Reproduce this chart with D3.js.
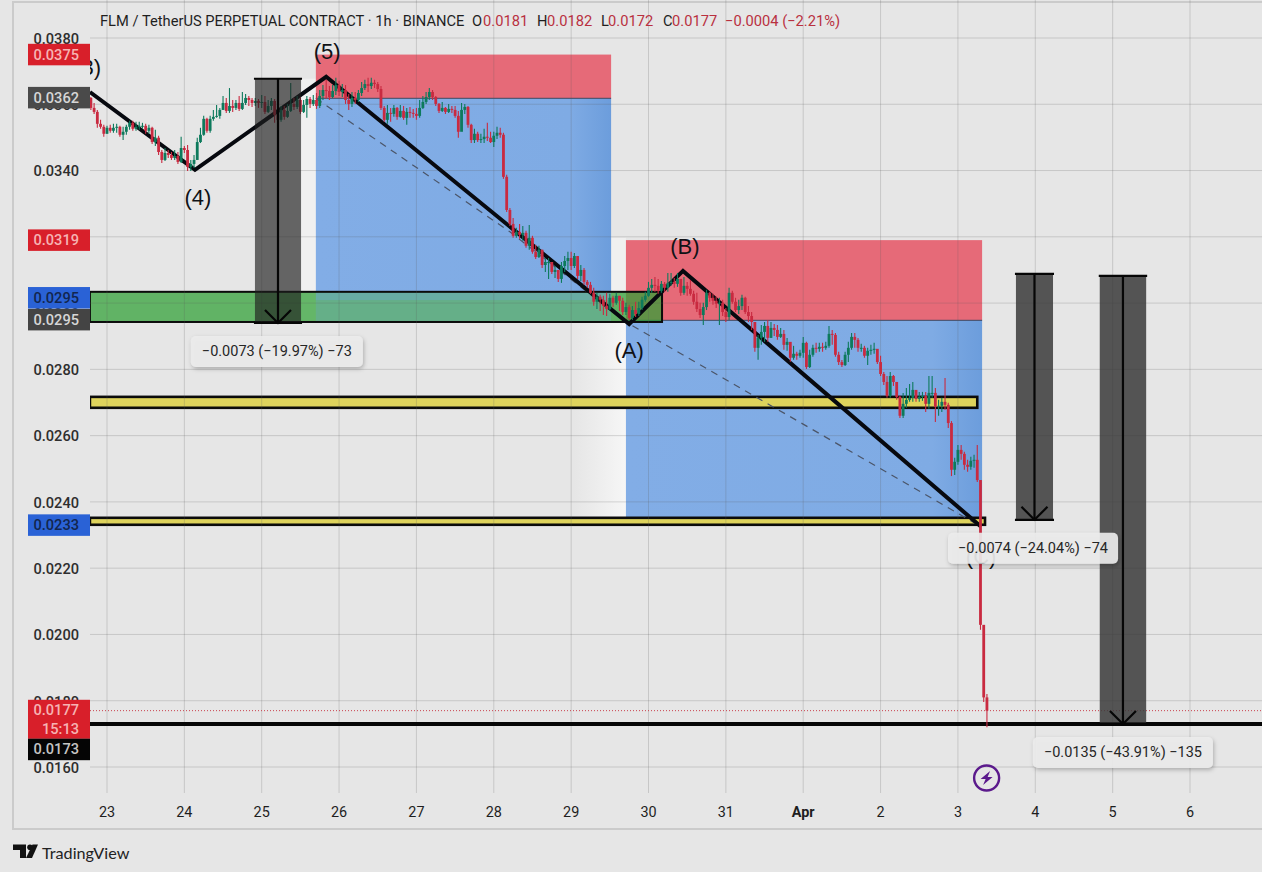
<!DOCTYPE html>
<html><head><meta charset="utf-8">
<script src="https://cdn.jsdelivr.net/npm/d3@7/dist/d3.min.js"></script>
<style>html,body{margin:0;padding:0;background:#e6e6e6;overflow:hidden}svg{display:block;font-family:Roboto,sans-serif}</style>
</head><body><svg id="c" width="1262" height="872"></svg>
<script>
// Hourly candles. Prices are in units of 0.00001; the first candle opens at firstOpen, then each opens at the previous close.
const firstHour = -5;   // hours from 23 March 00:00
const firstOpen = 3619;
const closes = [3589,3577,3541,3532,3511,
3529,3520,3529,3532,3508,3517,3532,3544,3526,3532,3535,3535,3520,3529,3486,3499,3456,3432,3453,3447,3438,3444,3426,3468,
3462,3411,3420,3432,3486,3508,3556,3520,3556,3562,3565,3583,3604,3580,3595,3589,3604,3586,3604,3619,3613,3604,3610,3604,
3607,3577,3595,3610,3568,3553,3583,3562,3580,3601,3592,3613,3577,3598,3616,3601,3613,3595,3625,3643,3640,3622,3640,3658,
3637,3643,3613,3601,3619,3613,3634,3649,3661,3655,3665,3661,3646,3589,3553,3574,3571,3589,3562,3580,3559,3577,3574,3571,
3565,3589,3607,3622,3637,3622,3601,3580,3589,3577,3586,3583,3565,3517,3583,3592,3538,3492,3511,3492,3495,3502,3499,3486,
3505,3514,3508,3381,3281,3239,3203,3215,3206,3212,3173,3197,3155,3139,3161,3115,3124,3124,3094,3100,3073,3112,3127,3136,
3112,3142,3082,3100,3064,3055,3031,3004,3019,3010,2992,2982,3016,3001,3022,3007,2973,2988,2955,2979,2967,2985,3010,3022,
3046,3055,3052,3037,3058,3046,3061,3064,3058,3073,3031,3052,3043,3028,3004,2982,2964,2988,3031,3016,3007,2998,3001,2973,
2958,3031,3004,2979,2991,3016,2973,2961,2943,2865,2895,2913,2931,2895,2925,2919,2898,2907,2874,2883,2835,2847,2841,2850,
2880,2807,2844,2865,2862,2868,2865,2871,2907,2904,2844,2822,2813,2844,2865,2898,2889,2865,2865,2841,2856,2859,2862,2822,
2786,2762,2720,2780,2762,2717,2660,2696,2708,2714,2738,2711,2717,2720,2696,2729,2729,2687,2690,2702,2693,2638,2497,2521,
2557,2545,2512,2506,2524,2527,2466,2029,1810,1770];
const highs = [3622,3604,3583,3553,3538,
3535,3538,3541,3541,3535,3532,3538,3550,3550,3547,3547,3544,3541,3538,3532,3523,3505,3462,3468,3462,3456,3462,3456,3502,
3474,3477,3432,3447,3499,3529,3565,3559,3565,3583,3598,3589,3625,3619,3649,3613,3613,3625,3637,3631,3625,3619,3619,3616,
3628,3625,3613,3619,3616,3589,3595,3595,3601,3664,3619,3625,3622,3613,3625,3622,3628,3634,3643,3658,3674,3655,3658,3680,
3671,3661,3658,3631,3637,3637,3643,3667,3674,3680,3680,3674,3667,3655,3595,3598,3589,3598,3592,3598,3595,3589,3592,3586,
3589,3613,3625,3637,3649,3643,3625,3604,3607,3592,3601,3595,3595,3580,3604,3601,3595,3541,3526,3517,3511,3526,3544,3517,
3517,3532,3529,3514,3387,3287,3257,3227,3239,3233,3218,3236,3203,3176,3173,3161,3136,3136,3118,3112,3100,3124,3142,3155,
3155,3151,3142,3115,3106,3070,3064,3046,3031,3025,3022,3031,3028,3022,3031,3022,3016,3001,2995,2991,3004,3004,3019,3034,
3064,3073,3079,3073,3067,3064,3091,3091,3076,3091,3073,3079,3064,3070,3037,3031,3001,3001,3040,3034,3028,3019,3016,3010,
2985,3046,3037,3016,3010,3025,3019,2991,2973,2943,2904,2934,2943,2949,2943,2937,2934,2925,2919,2895,2880,2871,2853,2859,
2898,2883,2859,2874,2880,2880,2880,2883,2931,2919,2910,2853,2828,2853,2883,2910,2910,2895,2877,2871,2865,2874,2880,2856,
2841,2792,2780,2792,2783,2756,2720,2729,2744,2756,2762,2738,2732,2732,2732,2780,2780,2744,2708,2714,2774,2699,2644,2533,
2572,2572,2551,2527,2536,2542,2572,2466,2023,1820];
const lows = [3583,3571,3529,3526,3502,
3511,3514,3514,3514,3502,3492,3508,3523,3520,3520,3523,3526,3511,3511,3480,3474,3447,3423,3429,3438,3432,3432,3420,3423,
3453,3399,3399,3408,3432,3483,3505,3514,3514,3550,3559,3556,3583,3574,3574,3577,3583,3580,3583,3598,3595,3592,3595,3589,
3589,3571,3574,3583,3544,3541,3547,3553,3559,3577,3583,3586,3571,3574,3559,3589,3595,3586,3589,3613,3616,3613,3619,3628,
3625,3622,3601,3583,3592,3601,3607,3625,3643,3637,3646,3649,3637,3583,3547,3541,3547,3562,3553,3559,3553,3538,3559,3559,
3553,3559,3586,3601,3613,3613,3595,3574,3577,3571,3574,3574,3559,3499,3523,3571,3529,3483,3483,3486,3483,3483,3489,3483,
3471,3495,3499,3375,3275,3233,3197,3197,3194,3188,3167,3161,3149,3133,3136,3106,3094,3073,3088,3076,3064,3061,3094,3100,
3100,3106,3073,3067,3055,3046,3028,2992,2982,2976,2964,2961,2979,2988,2995,2976,2964,2964,2949,2949,2958,2961,2979,3004,
3019,3031,3034,3028,3031,3034,3034,3052,3046,3049,3022,3025,3022,3022,2995,2973,2955,2934,2979,3004,2995,2985,2934,2961,
2943,2949,2998,2973,2967,2979,2967,2943,2919,2853,2829,2874,2883,2883,2895,2901,2889,2895,2859,2856,2823,2829,2829,2835,
2835,2801,2804,2838,2850,2853,2853,2859,2865,2874,2838,2813,2807,2810,2822,2859,2865,2853,2853,2835,2813,2844,2847,2816,
2780,2753,2714,2714,2750,2708,2653,2653,2684,2702,2702,2702,2702,2705,2671,2681,2714,2641,2660,2671,2678,2623,2478,2481,
2512,2527,2497,2491,2497,2503,2460,2014,1796,1720];

const priceTicks = [3800,3600,3400,3200,3000,2800,2600,2400,2200,2000,1800,1600];
const dayTicks = [0,24,48,72,96,120,144,168,192,216,240,264,288,312,336];
const dayLabels = ["23","24","25","26","27","28","29","30","31","Apr","2","3","4","5","6"];

// Chart drawings, in hours and price units
const wavePoints = [[-5.3,3637],[27.3,3402],[68,3683],[162,2937],[178.7,3097],[271.2,2325]];
const dashedPoints = [[64.8,3618],[125,3215],[161,2943],[271.2,2325]];
const waveLabels = [["(3)",-6,3710],["(5)",68.3,3758],["(4)",28.2,3320],["(A)",162,2856],["(B)",179.3,3170],["(C)",271.2,2234]];
const targetBoxes = [[64.8,156.4,3750,3618],[161,271.5,3190,2948]];
const stopBoxes = [[64.8,156.4,3618,3034],[161,271.5,2948,2331]];
const yellowBands = [[-5.3,270,2717,2684],[-5.3,272.4,2352,2331]];
const greenBand = [-5.3,172.2,3034,2943];
const arrowBoxes = [[45.9,60.2,3677,2940,"#1e1e1e",0.65],[282,293.5,3088,2346,"#3a3a3a",0.85],[308,322.4,3082,1730,"#3a3a3a",0.85]];
const callouts = [["−0.0073 (−19.97%) −73",52.7,2854,172],["−0.0074 (−24.04%) −74",287.3,2260,170],["−0.0135 (−43.91%) −135",315.2,1644,180]];
const lastPrice = 1770, supportPrice = 1730;
const priceTags = [
 [["0.0375"],3750,"#d81f2a","#f6b3b3"],[["0.0362"],3620,"#4a4a4a","#d6d6d6"],[["0.0319"],3190,"#d81f2a","#f6b3b3"],
 [["0.0295"],3016,"#2a62d6","#12264f"],[["0.0295"],2950,"#444","#d6d6d6"],[["0.0233"],2330,"#2a62d6","#12264f"],
 [["0.0177","15:13"],1744,"#d81f2a","#f6b3b3"],[["0.0173"],1653,"#050505","#c4c4c4"]];

const W = 1262, H = 872, left = 90, bottom = 793;
const x = d3.scaleLinear().domain([0,336]).range([107,1190]);
const y = d3.scaleLinear().domain([1600,3800]).range([767,38]);
const svg = d3.select("#c");

const defs = svg.append("defs");
const gradB = defs.append("linearGradient").attr("id","blueG");
gradB.append("stop").attr("offset","0").attr("stop-color","#82ade6");
gradB.append("stop").attr("offset","0.86").attr("stop-color","#7fabe4");
gradB.append("stop").attr("offset","1").attr("stop-color","#6c9ddc");
const gradW = defs.append("linearGradient").attr("id","glow");
gradW.append("stop").attr("offset","0").attr("stop-color","#f6f6f6").attr("stop-opacity",0);
gradW.append("stop").attr("offset","1").attr("stop-color","#f6f6f6").attr("stop-opacity",1);
defs.append("clipPath").attr("id","plot").append("rect").attr("x",left).attr("y",0).attr("width",W-left).attr("height",bottom);
const shadow = defs.append("filter").attr("id","sh").attr("x","-10%").attr("y","-20%").attr("width","120%").attr("height","150%");
shadow.append("feDropShadow").attr("dx",1).attr("dy",2).attr("stdDeviation",2).attr("flood-color","#000").attr("flood-opacity",0.28);

const rectH = (g,h0,h1,p0,p1) => g.append("rect").attr("x",x(h0)).attr("width",x(h1)-x(h0)).attr("y",y(p0)).attr("height",y(p1)-y(p0));

// frame
svg.append("rect").attr("x",13).attr("y",2).attr("width",W).attr("height",827).attr("fill","#e6e6e6").attr("stroke","#cbcbcb").attr("stroke-width",2);

const plot = svg.append("g").attr("clip-path","url(#plot)");

// pale glows beside the position boxes
rectH(plot,60.2,64.8,3677,2943).attr("fill","#f0f0f0");
rectH(plot,156.4,161,3197,3034).attr("fill","#f0f0f0");
rectH(plot,145,161,2943,2346).attr("fill","url(#glow)");

// position boxes
targetBoxes.forEach(b => rectH(plot,b[0],b[1],b[2],b[3]).attr("fill","#e66a78"));
stopBoxes.forEach(b => rectH(plot,b[0],b[1],b[2],b[3]).attr("fill","url(#blueG)"));
targetBoxes.forEach(b => plot.append("line").attr("x1",x(b[0])).attr("x2",x(b[1])).attr("y1",y(b[3])).attr("y2",y(b[3])).attr("stroke","#3d4560").attr("stroke-width",1));

// green zone
rectH(plot,greenBand[0],greenBand[1],greenBand[2],greenBand[3]).attr("fill","#30a035").attr("fill-opacity",0.73);
rectH(plot,64.8,156.4,3034,2943).attr("fill","#6fa6e6").attr("fill-opacity",0.28);
rectH(plot,64.8,156.4,3034,3009).attr("fill","#6fa6e6").attr("fill-opacity",0.3);
rectH(plot,greenBand[0],greenBand[1],greenBand[2],greenBand[3]).attr("fill","none").attr("stroke","#0b0b0b").attr("stroke-width",2);

// yellow bands
yellowBands.forEach(b => rectH(plot,b[0],b[1],b[2],b[3]).attr("fill","#ded35c").attr("stroke","#0b0b0b").attr("stroke-width",2.6));

// grid
const grid = plot.append("g").attr("stroke","rgba(90,90,90,0.22)").attr("stroke-width",1);
grid.selectAll(".gv").data(dayTicks).join("line").attr("x1",d=>x(d)).attr("x2",d=>x(d)).attr("y1",0).attr("y2",bottom);
grid.selectAll(".gh").data(priceTicks).join("line").attr("x1",left).attr("x2",W).attr("y1",d=>y(d)).attr("y2",d=>y(d));

// last price and support lines
plot.append("line").attr("x1",left).attr("x2",W).attr("y1",y(lastPrice)).attr("y2",y(lastPrice)).attr("stroke","#c9404c").attr("stroke-width",1).attr("stroke-dasharray","1 2");
plot.append("line").attr("x1",left).attr("x2",W).attr("y1",y(supportPrice)).attr("y2",y(supportPrice)).attr("stroke","#060606").attr("stroke-width",4);

// wave lines
const ln = d3.line().x(d=>x(d[0])).y(d=>y(d[1]));
plot.append("path").attr("d",ln(dashedPoints)).attr("fill","none").attr("stroke","#4b5568").attr("stroke-width",1.2).attr("stroke-dasharray","7 6");
plot.append("path").attr("d",ln(wavePoints)).attr("fill","none").attr("stroke","#07090f").attr("stroke-width",4).attr("stroke-linejoin","miter");

// wave labels
svg.append("g").selectAll("text").data(waveLabels).join("text")
  .attr("clip-path","url(#plot)")
  .attr("x",d=>x(d[1])).attr("y",d=>y(d[2])).attr("text-anchor","middle").attr("dominant-baseline","central")
  .style("font-family","'Liberation Sans',sans-serif").style("font-size","22px").attr("fill","#101216").text(d=>d[0]);

// candles
const candles = closes.map((c,i)=>({h:firstHour+i,o:i?closes[i-1]:firstOpen,c,hi:highs[i],lo:lows[i]}));
const cUp="#0d7a5c", cDn="#c92a40";
const cg = plot.append("g");
cg.selectAll(".w").data(candles).join("line").attr("x1",d=>x(d.h)).attr("x2",d=>x(d.h))
  .attr("y1",d=>y(d.hi)).attr("y2",d=>y(d.lo)).attr("stroke",d=>d.c>=d.o?cUp:cDn).attr("stroke-width",1.1);
cg.selectAll(".b").data(candles).join("rect").attr("x",d=>x(d.h)-1.4).attr("width",2.8)
  .attr("y",d=>y(Math.max(d.o,d.c))).attr("height",d=>Math.max(1,Math.abs(y(d.o)-y(d.c)))).attr("fill",d=>d.c>=d.o?cUp:cDn);

// measure arrows
arrowBoxes.forEach(b=>{
  const g = plot.append("g"), xm = (x(b[0])+x(b[1]))/2, yt=y(b[2]), yb=y(b[3]);
  rectH(g,b[0],b[1],b[2],b[3]).attr("fill",b[4]).attr("fill-opacity",b[5]);
  g.append("line").attr("x1",x(b[0])-1).attr("x2",x(b[1])+1).attr("y1",yt).attr("y2",yt).attr("stroke","#060606").attr("stroke-width",2.2);
  g.append("line").attr("x1",x(b[0])-1).attr("x2",x(b[1])+1).attr("y1",yb).attr("y2",yb).attr("stroke","#060606").attr("stroke-width",2.2);
  g.append("line").attr("x1",xm).attr("x2",xm).attr("y1",yt).attr("y2",yb).attr("stroke","#060606").attr("stroke-width",2.2);
  g.append("path").attr("d",d3.line()([[xm-13,yb-13],[xm,yb],[xm+13,yb-13]])).attr("fill","none").attr("stroke","#060606").attr("stroke-width",2.2);
});

// callouts
callouts.forEach(c=>{
  const cx=x(c[1]), cy=y(c[2]), w=c[3], h=31;
  svg.append("rect").attr("x",cx-w/2).attr("y",cy-h/2).attr("width",w).attr("height",h).attr("rx",5)
    .attr("fill","#ececec").attr("fill-opacity",0.9).attr("filter","url(#sh)");
  svg.append("text").attr("x",cx).attr("y",cy).attr("text-anchor","middle").attr("dominant-baseline","central")
    .style("font-size","14.5px").attr("fill","#262626").text(c[0]);
});

// axes
const ya = svg.append("g").attr("transform",`translate(${left},0.6)`)
  .call(d3.axisLeft(y).tickValues(priceTicks).tickSize(0).tickPadding(11).tickFormat(d=>(d/1e5).toFixed(4)));
ya.select(".domain").remove();
ya.selectAll("text").style("font-size","14.6px").style("font-family","Roboto,sans-serif").style("font-weight","500").attr("fill","#2e2e2e");
const xa = svg.append("g").attr("transform","translate(-0.5,807)")
  .call(d3.axisBottom(x).tickValues(dayTicks).tickSize(0).tickPadding(0).tickFormat((d,i)=>dayLabels[i]));
xa.select(".domain").remove();
xa.selectAll("text").style("font-size","14.4px").style("font-family","Roboto,sans-serif").attr("fill","#1e1e1e")
  .style("font-weight",(d,i)=>dayLabels[i]==="Apr"?"700":"400");

// price tags
priceTags.forEach(t=>{
  const cy=y(t[1]), h=t[0].length>1?39:21.5;
  svg.append("rect").attr("x",28).attr("width",62).attr("y",cy-h/2).attr("height",h).attr("fill",t[2]);
  t[0].forEach((s,i)=>svg.append("text").attr("x",79).attr("y",cy+(t[0].length>1?(i?9.5:-9):0)).attr("text-anchor","end").attr("dominant-baseline","central")
    .style("font-size","14.6px").style("font-weight","500").attr("fill",t[3]).text(s));
});

// header
const txt = (xp,s,col)=>svg.append("text").attr("x",xp).attr("y",21).attr("dominant-baseline","central").style("font-size","14.7px").attr("fill",col).text(s);
const ink="#1f1f1f", red="#b9303f";
txt(100,"FLM / TetherUS PERPETUAL CONTRACT · 1h · BINANCE",ink);
txt(472,"O",ink); txt(483,"0.0181",red);
txt(537,"H",ink); txt(547,"0.0182",red);
txt(601,"L",ink); txt(608,"0.0172",red);
txt(663,"C",ink); txt(672,"0.0177",red);
txt(725,"−0.0004 (−2.21%)",red);

// bolt marker
const bolt = svg.append("g").attr("transform",`translate(${x(272.9)},778)`);
bolt.append("circle").attr("r",12.5).attr("fill","none").attr("stroke","#5b1a8c").attr("stroke-width",2.4);
bolt.append("path").attr("d","M3.5,-7 L-6,1 L-1,1 L-3.5,7 L6,-1 L1,-1 Z").attr("fill","#5b1a8c");

// TradingView logo
const logo = svg.append("g").attr("fill","#111");
logo.append("path").attr("d","M13,844.5 H26 V858 H20 V850 H13 Z");
logo.append("circle").attr("cx",30).attr("cy",847.3).attr("r",2.8);
logo.append("path").attr("d","M32.5,844.5 H38 L32,858 H26 Z");
svg.append("text").attr("x",42).attr("y",852).attr("dominant-baseline","central").style("font-size","16.2px").style("font-family","Lato,sans-serif").attr("fill","#222").text("TradingView");
</script></body></html>
